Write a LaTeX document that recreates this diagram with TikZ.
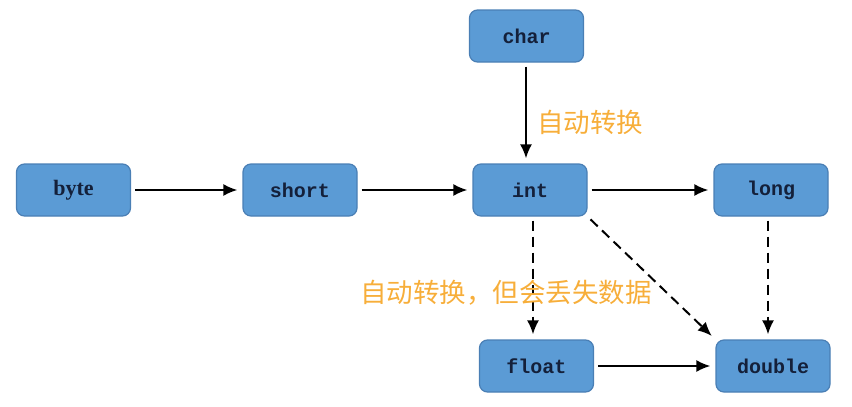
\documentclass[tikz,border=0pt]{standalone}
\usepackage{fontspec}
\setmonofont{Liberation Mono}
\newfontfamily\cjk{Noto Sans CJK SC}
\newfontfamily\serifb{Liberation Serif}
\usetikzlibrary{arrows.meta}
\definecolor{boxfill}{HTML}{5B9BD5}
\definecolor{boxedge}{HTML}{4A7FB5}
\definecolor{boxtext}{HTML}{14203A}
\definecolor{lbl}{HTML}{F7AE3A}
\begin{document}
\begin{tikzpicture}[x=1pt,y=-1pt,
  tbox/.style={draw=boxedge, line width=1.2pt, fill=boxfill, rounded corners=8pt,
    minimum width=114pt, minimum height=52pt, inner sep=0pt,
    font=\ttfamily\bfseries\fontsize{20}{22}\selectfont, text=boxtext},
  conn/.style={line width=2pt, -{Latex[length=14pt,width=12pt]}, shorten >=5pt, shorten <=4pt},
  dconn/.style={conn, dash pattern=on 10pt off 6pt},
  note/.style={font=\cjk\fontsize{26.5}{28}\selectfont, text=lbl, inner sep=0pt}]
\useasboundingbox (0,0) rectangle (852,407);
\node[tbox, font=\serifb\bfseries\fontsize{22}{24}\selectfont] (byte) at (73.5,190) {byte};
\node[tbox] (short) at (300,190) {short};
\node[tbox] (char) at (526.5,36) {char};
\node[tbox] (int) at (530,190) {int};
\node[tbox] (long) at (771,190) {long};
\node[tbox] (float) at (536.5,366) {float};
\node[tbox] (double) at (773,366) {double};
\draw[conn] (byte) -- (short);
\draw[conn] (short) -- (int);
\draw[conn] (char.south -| 526,0) -- (int.north -| 526,0);
\draw[conn] (int) -- (long);
\draw[conn] (float) -- (double);
\draw[dconn] (int.south -| 533,0) -- (float.north -| 533,0);
\draw[dconn] (long.south -| 768,0) -- (double.north -| 768,0);
\draw[dconn] (int.south east) -- (double.north west);
\node[note, anchor=west] (n1) at (537,122) {自动转换};
\node[note, anchor=west] (n2) at (360,293) {自动转换，但会丢失数据};
\end{tikzpicture}
\end{document}
